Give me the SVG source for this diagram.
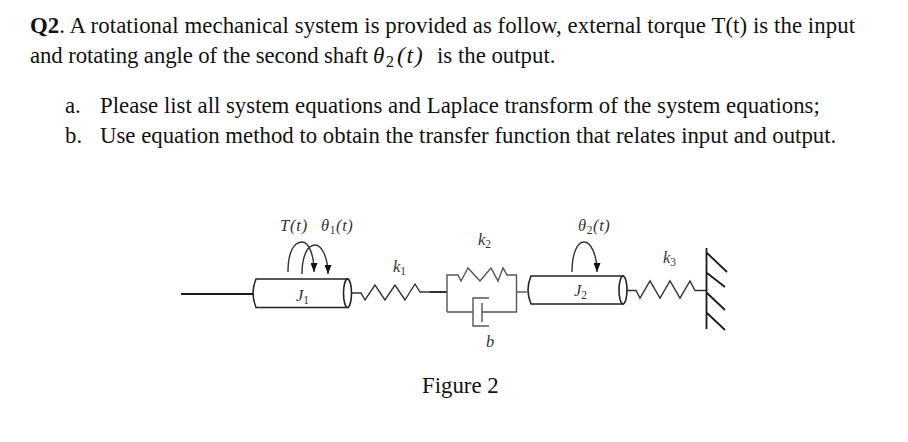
<svg xmlns="http://www.w3.org/2000/svg" width="908" height="442" viewBox="0 0 908 442">
<style>
text{font-family:"Liberation Serif","Times New Roman",serif;fill:#111}
.t{font-size:22.8px}
.m{font-size:16.500px;font-style:italic;fill:#333}
.s{font-size:11.500px;font-style:normal}
.l{fill:none;stroke:#333;stroke-width:1.4}
.h{fill:none;stroke:#1a1a1a;stroke-width:1.8}
.g{fill:none;stroke:#555;stroke-width:1.4}
.c{fill:#fff;stroke:#222;stroke-width:1.6}
</style>
<defs>
<marker id="a" markerUnits="userSpaceOnUse" markerWidth="9" markerHeight="7" refX="9" refY="3.500" orient="auto" viewBox="0 0 9 7"><path d="M0 0L9 3.500L0 7Z" fill="#111"/></marker>
</defs>
<rect width="908" height="442" fill="#fff"/>
<g id="question">
<text class="t" x="30" y="33" textLength="825" lengthAdjust="spacing"><tspan font-weight="bold">Q2</tspan>. A rotational mechanical system is provided as follow, external torque T(t) is the input</text>
<text class="t" x="30" y="63" textLength="338" lengthAdjust="spacing">and rotating angle of the second shaft</text>
<text class="t" x="373" y="63"><tspan font-style="italic" font-size="23">θ</tspan><tspan x="386" font-size="16" dy="4">2</tspan><tspan x="397" dy="-4" letter-spacing="1.5" font-style="italic" font-size="24">(t)</tspan></text>
<text class="t" x="437" y="63">is the output.</text>
<text class="t" x="65" y="113">a.</text>
<text class="t" x="100" y="113">Please list all system equations and Laplace transform of the system equations;</text>
<text class="t" x="65" y="143">b.</text>
<text class="t" x="100" y="143">Use equation method to obtain the transfer function that relates input and output.</text>
</g>
<g id="connectors">
<path class="h" d="M181 294H253"/>
<path class="l" d="M351 293H361L365 300L375 285L385 300L395 285L405 300L415 284L420 292H430"/>
<path class="h" d="M430 292H447"/>
<path class="g" d="M447 312V275H458L461 281L468 268L480 281L491 268L498 281L503 268L507 275H516.500V312H482M447 312H473"/>
<path class="g" d="M489 298H473V326H489M482 303V322"/>
<path class="g" d="M516.500 292H527"/>
<path class="l" d="M627 290.500H636L640 298L650 281L660 298L670 281L680 298L690 281L695 290.500H706"/>
</g>
<g id="J1">
<path class="c" d="M256 279H348Q352 293 348 307.500H256Q250 293 256 279Z"/>
<ellipse class="c" cx="347.500" cy="293.200" rx="4" ry="14.300"/>
<text class="m" x="296" y="301">J<tspan class="s" dy="3">1</tspan></text>
</g>
<g id="J2">
<path class="c" d="M531 276H623Q627 290 623 304H531Q525 290 531 276Z"/>
<ellipse class="c" cx="623" cy="290" rx="4" ry="14"/>
<text class="m" x="574" y="296">J<tspan class="s" dy="3">2</tspan></text>
</g>
<g id="input-arrows">
<path class="l" d="M288 272C288 250 295 242 302 242C309 242 314 255 314 272" marker-end="url(#a)"/>
<path class="l" d="M302 274C302 255 308 245 315 245C322 245 328 258 328 274" marker-end="url(#a)"/>
<path class="l" d="M572 272C572 252 578 242 584 242C591 242 597 255 597 272" marker-end="url(#a)"/>
</g>
<g id="wall">
<path class="h" d="M706.500 248V329M707 253L727 272M707 273L725 287M707 293L725 310M707 313L725 330"/>
</g>
<g id="labels">
<text class="m" x="280" y="231" letter-spacing="0.8">T(t)</text>
<text class="m" x="321" y="231" letter-spacing="0.6">θ<tspan class="s" dy="3">1</tspan><tspan dy="-3">(t)</tspan></text>
<text class="m" x="393" y="272">k<tspan class="s" dy="3">1</tspan></text>
<text class="m" x="478" y="245">k<tspan class="s" dy="3">2</tspan></text>
<text class="m" x="663" y="263">k<tspan class="s" dy="3">3</tspan></text>
<text class="m" x="578" y="231" letter-spacing="0.6">θ<tspan class="s" dy="3">2</tspan><tspan dy="-3">(t)</tspan></text>
<text class="m" x="486" y="347">b</text>
</g>
<text id="caption" class="t" x="422" y="393">Figure 2</text>
</svg>
